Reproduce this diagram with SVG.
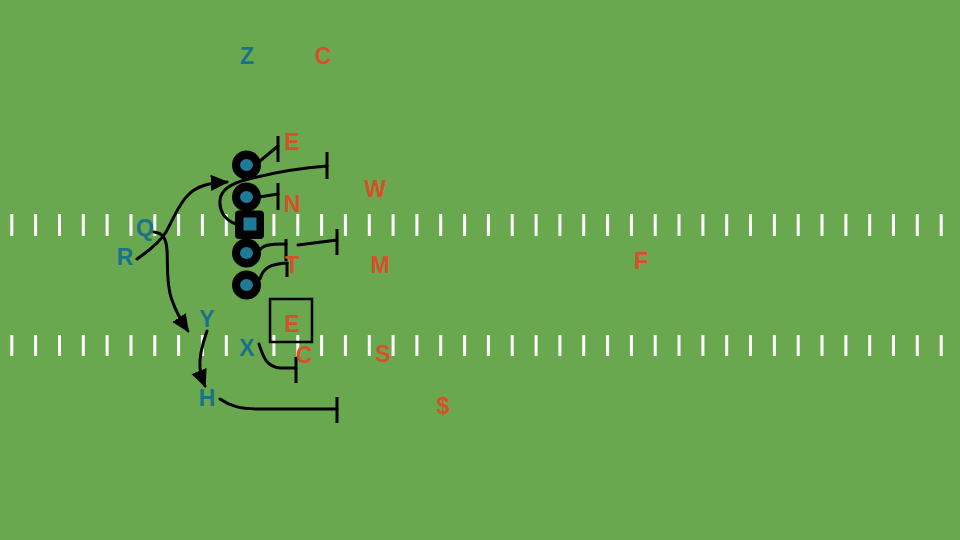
<svg xmlns="http://www.w3.org/2000/svg" width="960" height="540" viewBox="0 0 960 540">
<defs>
<style>
.bg{fill:#6aa84f}
.hash line{stroke:#ffffff;stroke-width:3}
.t{font-family:"Liberation Sans",Arial,sans-serif;font-weight:bold;font-size:23px;text-anchor:middle}
.b{fill:#1a7289}
.o{fill:#d4512b}
.ln{fill:none;stroke:#000;stroke-width:3;stroke-linecap:round}
.bar{stroke:#000;stroke-width:3}
.ring{fill:#000}
.core{fill:#1f7a98}
</style>
<marker id="ah" viewBox="0 0 10 10" refX="9" refY="5" markerWidth="6" markerHeight="6" markerUnits="strokeWidth" orient="auto">
<path d="M0,0.5 L10,5 L0,9.5 z" fill="#000"/>
</marker>
</defs>
<rect class="bg" x="0" y="0" width="960" height="540"/>
<g id="hashes" class="hash">
<line x1="11.8" y1="214" x2="11.8" y2="236"/><line x1="35.6" y1="214" x2="35.6" y2="236"/><line x1="59.5" y1="214" x2="59.5" y2="236"/><line x1="83.3" y1="214" x2="83.3" y2="236"/><line x1="107.1" y1="214" x2="107.1" y2="236"/><line x1="131" y1="214" x2="131" y2="236"/><line x1="154.8" y1="214" x2="154.8" y2="236"/><line x1="178.6" y1="214" x2="178.6" y2="236"/><line x1="202.4" y1="214" x2="202.4" y2="236"/><line x1="226.3" y1="214" x2="226.3" y2="236"/><line x1="250.1" y1="214" x2="250.1" y2="236"/><line x1="273.9" y1="214" x2="273.9" y2="236"/><line x1="297.8" y1="214" x2="297.8" y2="236"/><line x1="321.6" y1="214" x2="321.6" y2="236"/><line x1="345.4" y1="214" x2="345.4" y2="236"/><line x1="369.3" y1="214" x2="369.3" y2="236"/><line x1="393.1" y1="214" x2="393.1" y2="236"/><line x1="416.9" y1="214" x2="416.9" y2="236"/><line x1="440.7" y1="214" x2="440.7" y2="236"/><line x1="464.6" y1="214" x2="464.6" y2="236"/><line x1="488.4" y1="214" x2="488.4" y2="236"/><line x1="512.2" y1="214" x2="512.2" y2="236"/><line x1="536.1" y1="214" x2="536.1" y2="236"/><line x1="559.9" y1="214" x2="559.9" y2="236"/><line x1="583.7" y1="214" x2="583.7" y2="236"/><line x1="607.6" y1="214" x2="607.6" y2="236"/><line x1="631.4" y1="214" x2="631.4" y2="236"/><line x1="655.2" y1="214" x2="655.2" y2="236"/><line x1="679" y1="214" x2="679" y2="236"/><line x1="702.9" y1="214" x2="702.9" y2="236"/><line x1="726.7" y1="214" x2="726.7" y2="236"/><line x1="750.5" y1="214" x2="750.5" y2="236"/><line x1="774.4" y1="214" x2="774.4" y2="236"/><line x1="798.2" y1="214" x2="798.2" y2="236"/><line x1="822" y1="214" x2="822" y2="236"/><line x1="845.9" y1="214" x2="845.9" y2="236"/><line x1="869.7" y1="214" x2="869.7" y2="236"/><line x1="893.5" y1="214" x2="893.5" y2="236"/><line x1="917.3" y1="214" x2="917.3" y2="236"/><line x1="941.2" y1="214" x2="941.2" y2="236"/>
<line x1="11.8" y1="335" x2="11.8" y2="356"/><line x1="35.6" y1="335" x2="35.6" y2="356"/><line x1="59.5" y1="335" x2="59.5" y2="356"/><line x1="83.3" y1="335" x2="83.3" y2="356"/><line x1="107.1" y1="335" x2="107.1" y2="356"/><line x1="131" y1="335" x2="131" y2="356"/><line x1="154.8" y1="335" x2="154.8" y2="356"/><line x1="178.6" y1="335" x2="178.6" y2="356"/><line x1="202.4" y1="335" x2="202.4" y2="356"/><line x1="226.3" y1="335" x2="226.3" y2="356"/><line x1="273.9" y1="335" x2="273.9" y2="356"/><line x1="297.8" y1="335" x2="297.8" y2="356"/><line x1="321.6" y1="335" x2="321.6" y2="356"/><line x1="345.4" y1="335" x2="345.4" y2="356"/><line x1="369.3" y1="335" x2="369.3" y2="356"/><line x1="393.1" y1="335" x2="393.1" y2="356"/><line x1="416.9" y1="335" x2="416.9" y2="356"/><line x1="440.7" y1="335" x2="440.7" y2="356"/><line x1="464.6" y1="335" x2="464.6" y2="356"/><line x1="488.4" y1="335" x2="488.4" y2="356"/><line x1="512.2" y1="335" x2="512.2" y2="356"/><line x1="536.1" y1="335" x2="536.1" y2="356"/><line x1="559.9" y1="335" x2="559.9" y2="356"/><line x1="583.7" y1="335" x2="583.7" y2="356"/><line x1="607.6" y1="335" x2="607.6" y2="356"/><line x1="631.4" y1="335" x2="631.4" y2="356"/><line x1="655.2" y1="335" x2="655.2" y2="356"/><line x1="679" y1="335" x2="679" y2="356"/><line x1="702.9" y1="335" x2="702.9" y2="356"/><line x1="726.7" y1="335" x2="726.7" y2="356"/><line x1="750.5" y1="335" x2="750.5" y2="356"/><line x1="774.4" y1="335" x2="774.4" y2="356"/><line x1="798.2" y1="335" x2="798.2" y2="356"/><line x1="822" y1="335" x2="822" y2="356"/><line x1="845.9" y1="335" x2="845.9" y2="356"/><line x1="869.7" y1="335" x2="869.7" y2="356"/><line x1="893.5" y1="335" x2="893.5" y2="356"/><line x1="917.3" y1="335" x2="917.3" y2="356"/><line x1="941.2" y1="335" x2="941.2" y2="356"/>
</g>
<g id="connectors">
<path class="ln" d="M260,161 L278,146"/>
<line class="bar" x1="278" y1="136" x2="278" y2="162"/>
<path class="ln" d="M236,224 C224,220 219,210 220,200 C221,190 230,184 245,180 C275,172 300,168 327,166"/>
<line class="bar" x1="327" y1="152" x2="327" y2="179"/>
<path class="ln" d="M259,197 L278,194"/>
<line class="bar" x1="278" y1="183" x2="278" y2="210"/>
<path class="ln" d="M259,251 C263,245 268,244 286,244"/>
<line class="bar" x1="286" y1="239" x2="286" y2="261"/>
<path class="ln" d="M260,279 C263,268 270,264 287,263"/>
<line class="bar" x1="287" y1="262" x2="287" y2="277"/>
<path class="ln" d="M298,245 L337,240"/>
<line class="bar" x1="337" y1="229" x2="337" y2="255"/>
<path class="ln" d="M137,259 C150,250 160,242 166,232 C174,218 178,205 188,195 C197,186 208,183 227,182" marker-end="url(#ah)"/>
<path class="ln" d="M154,232 C163,233 166,238 167,250 C168,265 166,285 172,300 C176,312 182,322 188,331" marker-end="url(#ah)"/>
<path class="ln" d="M207,331 C202,345 199,357 200,368 C201,376 203,381 205,386" marker-end="url(#ah)"/>
<path class="ln" d="M259,344 C263,356 266,367 280,368 L296,368"/>
<line class="bar" x1="296" y1="357" x2="296" y2="383"/>
<path class="ln" d="M220,399 C230,406 240,409 260,409 L337,409"/>
<line class="bar" x1="337" y1="397" x2="337" y2="423"/>
</g>
<g id="box"><rect x="270" y="299" width="42" height="43" fill="none" stroke="#000" stroke-width="2.5"/></g>
<g id="p1"><circle class="ring" cx="246.5" cy="165" r="14.5"/><ellipse class="core" cx="246.5" cy="165" rx="6.5" ry="6"/></g>
<g id="p2"><circle class="ring" cx="246.5" cy="197" r="14.5"/><ellipse class="core" cx="246.5" cy="197" rx="6.5" ry="6"/></g>
<g id="center"><rect class="ring" x="235" y="210.5" width="29" height="28.5" rx="4"/><rect class="core" x="243.5" y="217.5" width="13" height="13"/></g>
<g id="p4"><circle class="ring" cx="246.5" cy="253" r="14.5"/><ellipse class="core" cx="246.5" cy="253" rx="6.5" ry="6"/></g>
<g id="p5"><circle class="ring" cx="246.5" cy="285" r="14.5"/><ellipse class="core" cx="246.5" cy="285" rx="6.5" ry="6"/></g>
<g id="labels" class="t">
<text class="b" x="247" y="64">Z</text>
<text class="o" x="323" y="64">C</text>
<text class="o" x="292" y="149.5">E</text>
<text class="o" x="375" y="196.5">W</text>
<text class="o" x="292" y="212">N</text>
<text class="o" x="292" y="273">T</text>
<text class="o" x="380" y="272.5">M</text>
<text class="o" x="641" y="268.5">F</text>
<text class="o" x="292" y="332">E</text>
<text class="b" x="247" y="355.5">X</text>
<text class="o" x="304" y="363">C</text>
<text class="o" x="383" y="362">S</text>
<text class="o" x="443" y="414">$</text>
<text class="b" x="145" y="236">Q</text>
<text class="b" x="125" y="264.5">R</text>
<text class="b" x="207" y="326.5">Y</text>
<text class="b" x="207" y="405.5">H</text>
</g>
</svg>
